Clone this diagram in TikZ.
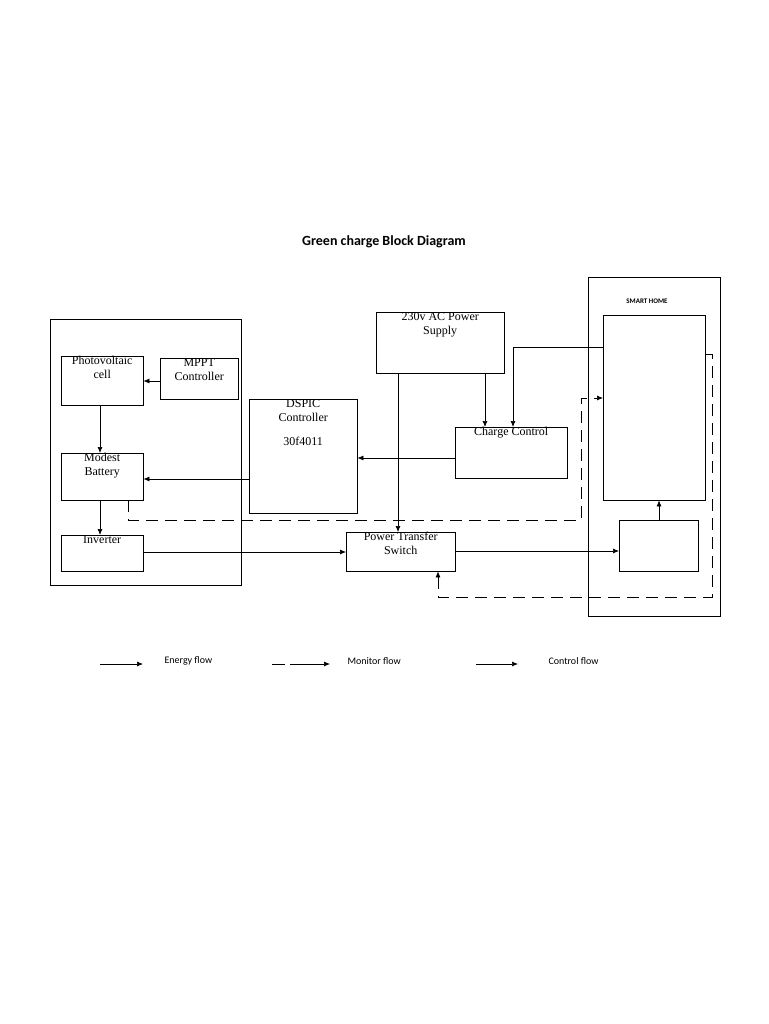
\documentclass[tikz,border=0pt]{standalone}
\usepackage{fontspec}
\setmainfont{Liberation Serif}
\setsansfont{Carlito}
\usetikzlibrary{arrows.meta,calc}
\tikzset{
    blk/.style = {
        draw, rectangle, align=center, anchor=north west,
        inner sep=0, font=\fontsize{12}{14}\selectfont
    },
    frame/.style = {draw, rectangle, anchor=north west, inner sep=0},
    flow/.style = {-{Latex[length=6pt,width=5pt]}, line width=0.7pt},
    mon/.style = {flow, dash pattern=on 12pt off 7pt},
    lgd/.style = {font=\sffamily\fontsize{10}{12}\selectfont, anchor=west}
}
% box with north west corner, size and label
\newcommand{\blkat}[6]{\node[blk,minimum width=#4pt,minimum height=#5pt] (#1) at (#2,#3) {};
  \node[font=\fontsize{12}{14}\selectfont,align=center,anchor=north] at ($(#1.north)+(0,-3)$) {#6};}

\begin{document}
\begin{tikzpicture}[x=1pt,y=-1pt]
\useasboundingbox (0,0) rectangle (768,1024);

% 1. title
\node[font=\sffamily\bfseries\fontsize{14}{16}\selectfont] (title) at (384,242) {Green charge Block Diagram};

% 2. frames
\node[frame,minimum width=191pt,minimum height=266pt] (left) at (50,319) {};
\node[frame,minimum width=132pt,minimum height=339pt] (home) at (588,277) {};
\node[font=\sffamily\bfseries\fontsize{7}{8}\selectfont] (homelbl) at (647,301) {SMART HOME};

% 3. blocks
\blkat{pv}{61}{356}{82}{49}{Photovoltaic\\cell}
\blkat{mppt}{160}{358}{78}{41}{MPPT\\Controller}
\blkat{bat}{61}{453}{82}{47}{Modest\\Battery}
\blkat{inv}{61}{535}{82}{36}{Inverter}
\blkat{dspic}{249}{399}{108}{114}{DSPIC\\Controller\\[10pt]30f4011}
\blkat{ac}{376}{312}{128}{61}{230v AC Power\\Supply}
\blkat{cc}{455}{427}{112}{51}{Charge Control}
\blkat{pts}{346}{532}{109}{39}{Power Transfer\\Switch}
\node[frame,minimum width=102pt,minimum height=185pt] (load) at (603,315) {};
\node[frame,minimum width=79pt,minimum height=51pt] (meter) at (619,520) {};

% 4. energy and control arrows
\draw[flow] (mppt.west |- 0,381) -- (pv.east |- 0,381);
\draw[flow] (pv.south -| 100,0) -- (bat.north -| 100,0);
\draw[flow] (bat.south -| 100,0) -- (inv.north -| 100,0);
\draw[flow] (dspic.west |- 0,479) -- (bat.east |- 0,479);
\draw[flow] (cc.west |- 0,458) -- (dspic.east |- 0,458);
\draw[flow] (ac.south -| 485,0) -- (cc.north -| 485,0);
\draw[flow] (load.west |- 0,347) -| (cc.north -| 513,0);
\draw[flow] (ac.south -| 398,0) -- (pts.north -| 398,0);
\draw[flow] (inv.east |- 0,552) -- (pts.west |- 0,552);
\draw[flow] (pts.east |- 0,551) -- (meter.west |- 0,551);
\draw[flow] (meter.north -| 659,0) -- (load.south -| 659,0);

% 5. monitor arrows
\coordinate (m1) at (581,520);
\draw[mon] (bat.south -| 128,0) |- (m1) |- (load.west |- 0,398);
\coordinate (m2) at (712,597);
\draw[mon] (load.east |- 0,354) -| (m2) -| (pts.south -| 438,0);

% 6. legend
\coordinate (e1) at (100,664); \coordinate (e2) at (143,664);
\draw[flow] (e1) -- (e2);
\node[lgd] (etxt) at (161,661) {Energy flow};
\coordinate (d1) at (272,664); \coordinate (d2) at (285,664); \coordinate (d3) at (330,664);
\draw[line width=0.7pt] (d1) -- (d2);
\draw[flow] ($(d2)+(5,0)$) -- (d3);
\node[lgd] (mtxt) at (344,661) {Monitor flow};
\coordinate (c1) at (476,664); \coordinate (c2) at (518,664);
\draw[flow] (c1) -- (c2);
\node[lgd] (ctxt) at (545,661) {Control flow};
\end{tikzpicture}
\end{document}
